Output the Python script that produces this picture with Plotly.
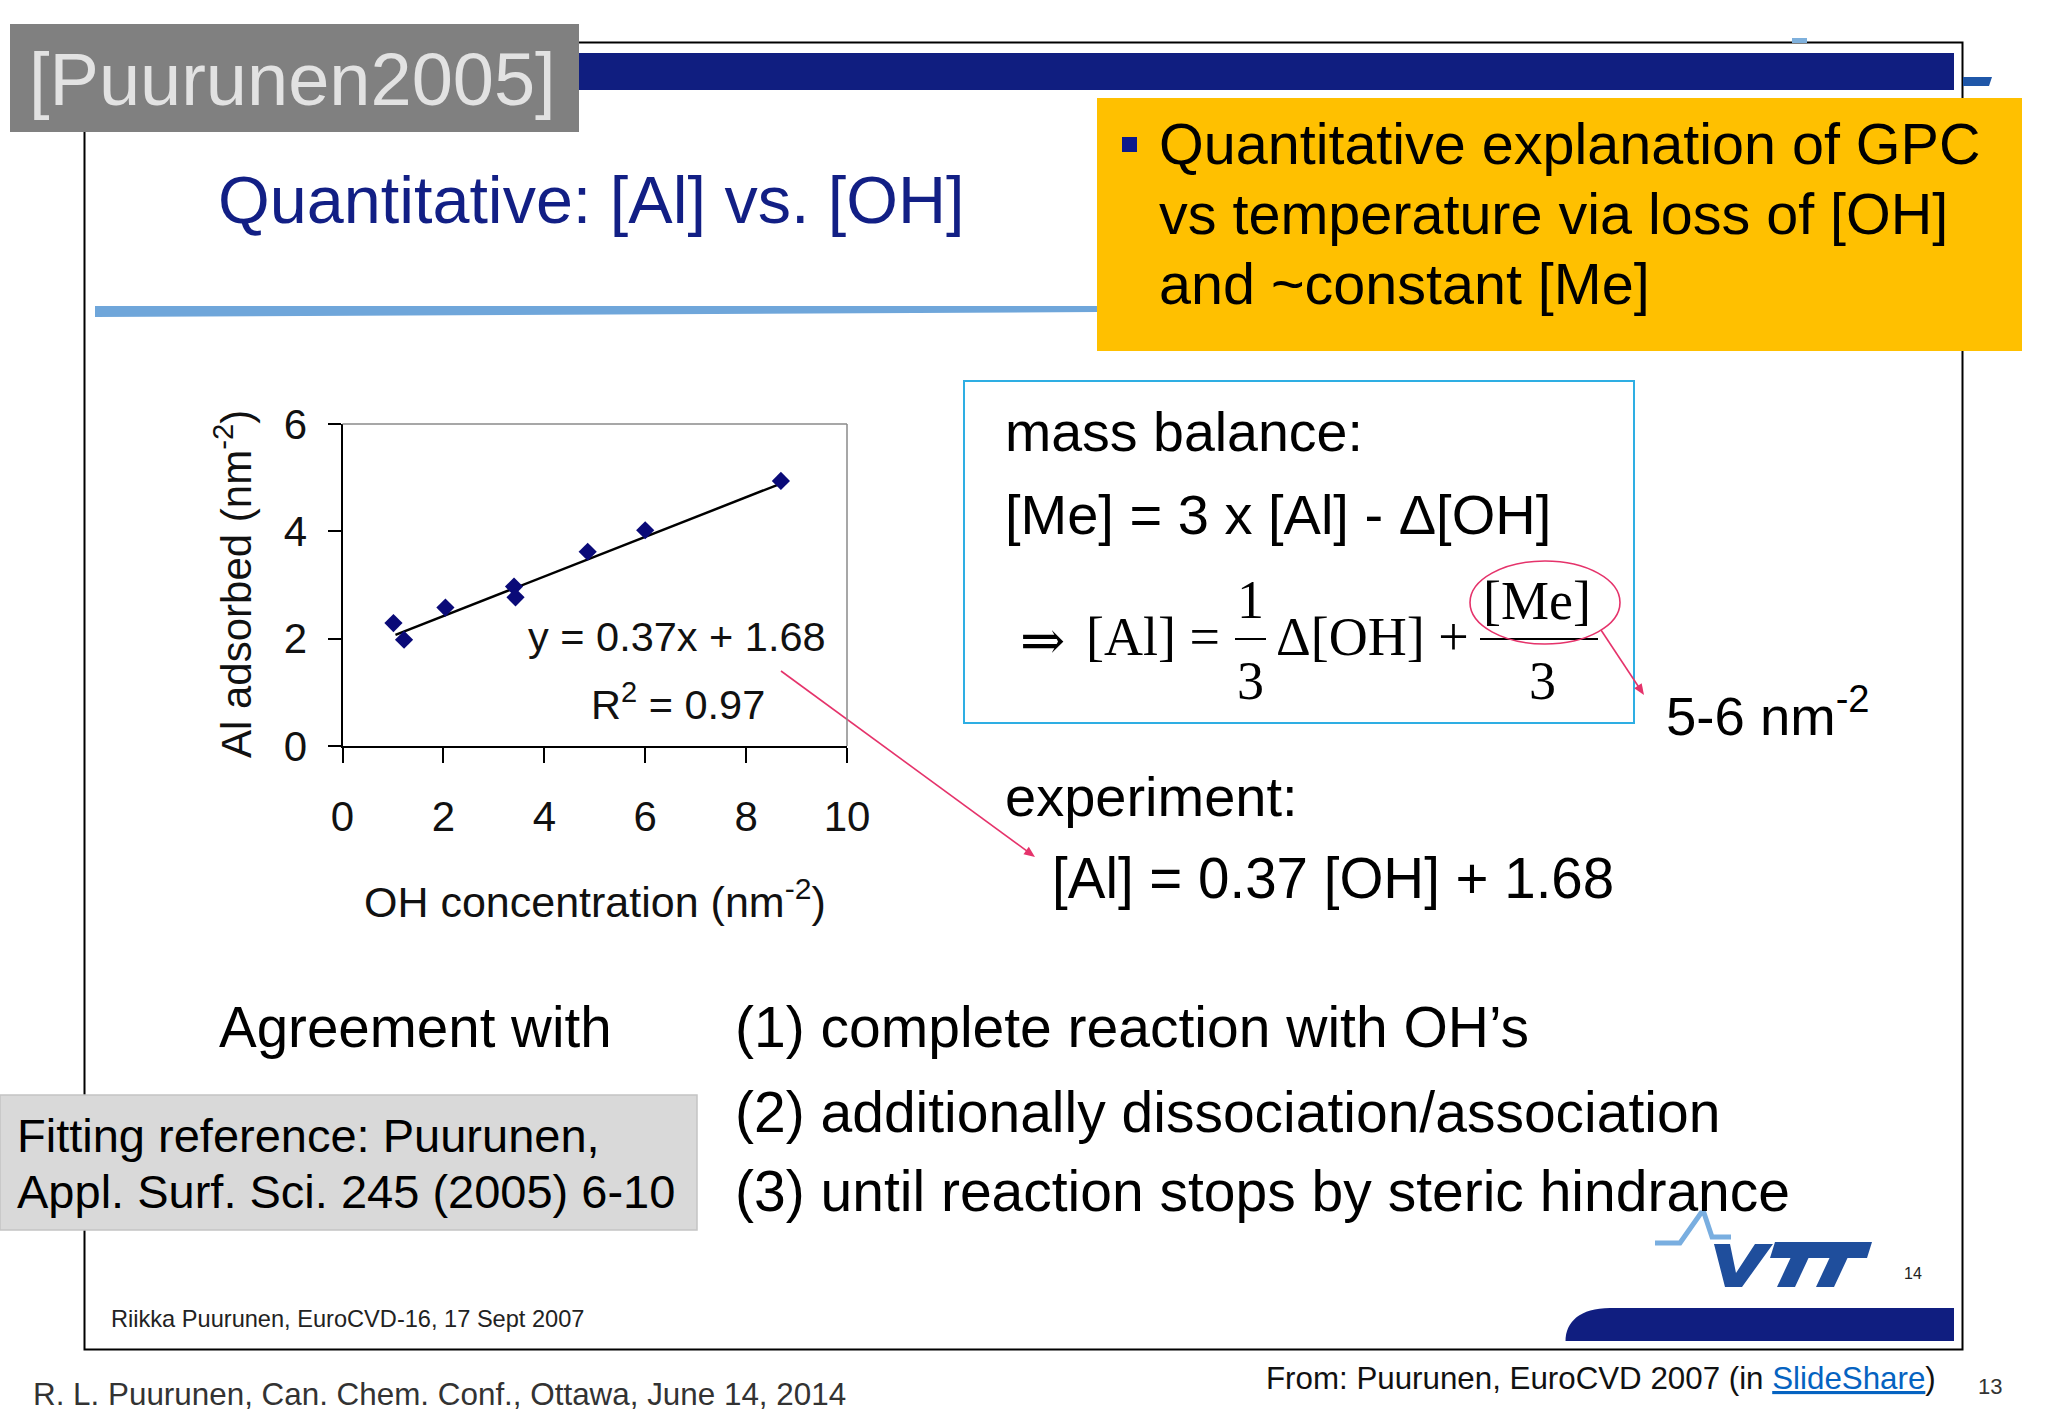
import math
import plotly.graph_objects as go

W, H = 2048, 1418

# ---------------- data ----------------
oh_conc = [1.01, 1.22, 2.04, 3.40, 3.43, 4.86, 6.00, 8.69]
al_ads = [2.29, 1.98, 2.58, 2.97, 2.77, 3.62, 4.02, 4.94]
trend_oh = [1.05, 8.69]
trend_al = [2.07, 4.89]
x_ticks = [0, 2, 4, 6, 8, 10]
y_ticks = [0, 2, 4, 6]
x_title = "OH concentration (nm<sup>-2</sup>)"
y_title = "Al adsorbed (nm<sup>-2</sup>)"
fit_eq = "y = 0.37x + 1.68"
fit_r2 = "R<sup>2</sup> = 0.97"

SANS = "Liberation Sans, Arial, sans-serif"
SERIF = "Liberation Serif, Times New Roman, DejaVu Serif, serif"
NAVY = "#101e80"
PINK = "#e5336b"


def px(x):
    return x / W


def py(y):
    return 1 - y / H


def rect(x0, y0, x1, y1, fill=None, line=None, lw=0):
    d = dict(type="rect", xref="paper", yref="paper",
             x0=px(x0), x1=px(x1), y0=py(y1), y1=py(y0),
             line=dict(width=lw, color=line or "rgba(0,0,0,0)"))
    if fill:
        d["fillcolor"] = fill
    return d


def poly(pts, fill, line=None, lw=0, close=True):
    s = "M " + " L ".join(f"{px(a):.5f},{py(b):.5f}" for a, b in pts)
    if close:
        s += " Z"
    d = dict(type="path", xref="paper", yref="paper", path=s,
             line=dict(width=lw, color=line or "rgba(0,0,0,0)"))
    if fill:
        d["fillcolor"] = fill
    return d


def seg(x0, y0, x1, y1, color, w):
    return dict(type="line", xref="paper", yref="paper",
                x0=px(x0), y0=py(y0), x1=px(x1), y1=py(y1),
                line=dict(color=color, width=w))


def txt(text, x, y, size, color="#000000", xanchor="left", family=SANS, **kw):
    return dict(text=text, x=px(x), y=py(y), xref="paper", yref="paper",
                xanchor=xanchor, yanchor="middle", showarrow=False,
                font=dict(size=size, color=color, family=family), **kw)


def arrow_shapes(hx, hy, tx, ty, L=11, Wd=4.5):
    dx, dy = hx - tx, hy - ty
    n = math.hypot(dx, dy)
    ux, uy = dx / n, dy / n
    bx, by = hx - ux * L, hy - uy * L
    p1 = (bx - uy * Wd, by + ux * Wd)
    p2 = (bx + uy * Wd, by - ux * Wd)
    return [seg(tx, ty, bx + ux * 2, by + uy * 2, PINK, 1.6),
            poly([(hx, hy), p1, p2], fill=PINK)]


fig = go.Figure()
fig.add_trace(go.Scatter(x=trend_oh, y=trend_al, mode="lines",
                         line=dict(color="#000000", width=2.5),
                         showlegend=False, hoverinfo="skip"))
fig.add_trace(go.Scatter(x=oh_conc, y=al_ads, mode="markers",
                         marker=dict(symbol="diamond", size=14, color="#0a0a78",
                                     line=dict(width=0)),
                         showlegend=False))

# plot area in pixels
PX0, PX1, PY0, PY1 = 342.5, 847, 424, 746

shapes = []
# slide frame
shapes.append(rect(84.5, 42.5, 1962.5, 1349.5, line="#000000", lw=2))
# top navy bar and small decorations
shapes.append(rect(579, 53, 1954, 90, fill=NAVY))
shapes.append(poly([(1963, 77), (1992, 77), (1989, 86), (1963, 86)], fill="#1f57a8"))
shapes.append(rect(1792, 38, 1807, 43, fill="#7eb0dc"))
# grey tag box
shapes.append(rect(10, 24, 579, 132, fill="#808080"))
# light blue rule under the title
shapes.append(poly([(95, 306), (1098, 306), (1098, 312), (95, 317)], fill="#6fa6da"))
# yellow box
shapes.append(rect(1097, 98, 2022, 351, fill="#ffc000"))
shapes.append(rect(1122, 137, 1137, 152, fill="#0d1a8c"))
# mass balance box
shapes.append(rect(964, 381, 1634, 723, line="#2eaee3", lw=2))
# fraction bars
shapes.append(seg(1235, 639, 1266, 639, "#000000", 2))
shapes.append(seg(1480, 639, 1598, 639, "#000000", 2))
# ellipse around [Me]
shapes.append(dict(type="circle", xref="paper", yref="paper",
                   x0=px(1470), x1=px(1620), y0=py(644), y1=py(561),
                   line=dict(color=PINK, width=1.6)))
# pink arrows
shapes += arrow_shapes(1644, 695, 1601, 630)
shapes += arrow_shapes(1035, 857, 781, 671)
# fitting reference box
shapes.append(rect(0, 1095, 697, 1230, fill="#d9d9d9", line="#c4c4c4", lw=1.5))
# bottom navy shape
shapes.append(dict(type="path", xref="paper", yref="paper",
                   path=(f"M {px(1565.5):.5f},{py(1341):.5f} "
                         f"C {px(1565.5):.5f},{py(1322):.5f} {px(1580):.5f},{py(1308):.5f} {px(1610):.5f},{py(1308):.5f} "
                         f"L {px(1954):.5f},{py(1308):.5f} L {px(1954):.5f},{py(1341):.5f} Z"),
                   fillcolor=NAVY, line=dict(width=0)))
# VTT logo
shapes.append(poly([(1655, 1243), (1680, 1243), (1701, 1213), (1704, 1213), (1712, 1237), (1731, 1237)],
                   fill=None, line="#79aee0", lw=5, close=False))
VB = "#1f4e9c"
shapes.append(poly([(1714, 1244), (1730, 1244), (1736, 1273), (1755, 1244), (1773, 1244),
                    (1742, 1287), (1725, 1287)], fill=VB))
shapes.append(poly([(1775, 1242), (1872, 1242), (1867, 1258), (1770, 1258)], fill=VB))
shapes.append(poly([(1791, 1257), (1809, 1257), (1795, 1287), (1777, 1287)], fill=VB))
shapes.append(poly([(1830, 1257), (1848, 1257), (1834, 1287), (1816, 1287)], fill=VB))
# plot box top / right (grey)
shapes.append(seg(PX0, PY0, PX1, PY0, "#8a8a8a", 1.5))
shapes.append(seg(PX1, PY0, PX1, PY1, "#8a8a8a", 1.5))

ann = []
ann.append(txt("[Puurunen2005]", 292, 79, 74, color="#e2e2e2", xanchor="center"))
ann.append(txt("Quantitative: [Al] vs. [OH]", 591, 200, 66.5, color="#121f85", xanchor="center"))
ann.append(txt("Quantitative explanation of GPC", 1157, 144, 57.5))
ann.append(txt("vs temperature via loss of [OH]", 1157, 214, 57.5))
ann.append(txt("and ~constant [Me]", 1157, 284, 57.5))

ann.append(txt("mass balance:", 1003, 432, 55.5))
ann.append(txt("[Me] = 3 x [Al] - Δ[OH]", 1003, 514, 56))
ann.append(txt("⇒", 1042, 640, 54, xanchor="center", family="DejaVu Serif, serif"))
ann.append(txt("[Al] =", 1084, 637, 54, family=SERIF))
ann.append(txt("1", 1250, 600, 54, xanchor="center", family=SERIF))
ann.append(txt("3", 1250, 681, 54, xanchor="center", family=SERIF))
ann.append(txt("Δ[OH] +", 1274, 637, 54, family=SERIF))
ann.append(txt("[Me]", 1537, 601, 54, xanchor="center", family=SERIF))
ann.append(txt("3", 1542, 681, 54, xanchor="center", family=SERIF))
ann.append(txt("5-6 nm<sup>-2</sup>", 1664, 712, 54.5))

ann.append(txt("experiment:", 1003, 796, 56))
ann.append(txt("[Al] = 0.37 [OH] + 1.68", 1050, 878, 56.5))

ann.append(txt("Agreement with", 217, 1027, 56.5))
ann.append(txt("(1) complete reaction with OH’s", 733, 1027, 57))
ann.append(txt("(2) additionally dissociation/association", 733, 1112, 57))
ann.append(txt("(3) until reaction stops by steric hindrance", 733, 1191, 57))

ann.append(txt("Fitting reference: Puurunen,", 15, 1135, 47))
ann.append(txt("Appl. Surf. Sci. 245 (2005) 6-10", 15, 1191, 47))

ann.append(txt("Riikka Puurunen, EuroCVD-16, 17 Sept 2007", 109, 1319, 23.6, color="#222222"))
ann.append(txt("14", 1913, 1273, 16, color="#222222", xanchor="center"))
ann.append(txt("R. L. Puurunen, Can. Chem. Conf., Ottawa, June 14, 2014", 31, 1394, 31.4, color="#333333"))
ann.append(txt("From: Puurunen, EuroCVD 2007 (in <span style='color:#0563c1'><u>SlideShare</u></span>)",
               1264, 1378, 31.3, color="#111111"))
ann.append(txt("13", 1990, 1386, 22, color="#333333", xanchor="center"))

# chart texts
ann.append(txt(fit_eq, 677, 636, 41.5, color="#111111", xanchor="center"))
ann.append(txt(fit_r2, 678, 702, 41.5, color="#111111", xanchor="center"))
ann.append(txt(x_title, 595, 899, 43, color="#111111", xanchor="center"))
ann.append(txt(y_title, 233, 584, 42, color="#111111", xanchor="center", textangle=-90))

fig.update_layout(
    width=W, height=H,
    margin=dict(l=0, r=0, t=0, b=0, pad=0, autoexpand=False),
    paper_bgcolor="white", plot_bgcolor="white",
    showlegend=False,
    shapes=shapes,
    annotations=ann,
    xaxis=dict(domain=[px(PX0), px(PX1)], range=[0, 10],
               tickmode="array", tickvals=x_ticks, automargin=False,
               ticks="outside", ticklen=15, tickwidth=2, tickcolor="#000000",
               showline=True, linewidth=2, linecolor="#000000",
               showgrid=False, zeroline=False,
               tickfont=dict(size=42, color="#111111", family=SANS),
               ticklabelstandoff=18),
    yaxis=dict(domain=[py(PY1), py(PY0)], range=[0, 6],
               tickmode="array", tickvals=y_ticks, automargin=False,
               ticks="outside", ticklen=13, tickwidth=2, tickcolor="#000000",
               showline=True, linewidth=2, linecolor="#000000",
               showgrid=False, zeroline=False,
               tickfont=dict(size=42, color="#111111", family=SANS),
               ticklabelstandoff=12),
)

fig.write_html("out.html")
